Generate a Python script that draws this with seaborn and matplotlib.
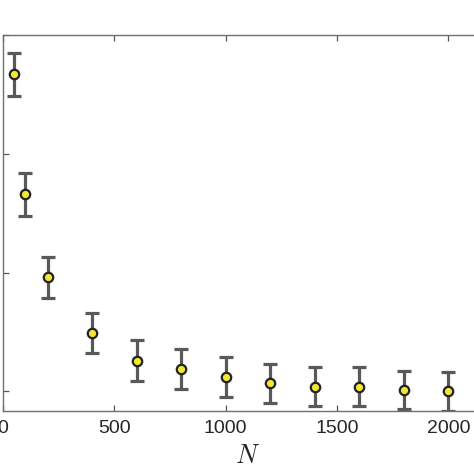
import numpy as np
import matplotlib
matplotlib.use("Agg")
import matplotlib.pyplot as plt
import seaborn as sns

# sample sizes and the estimated values (arbitrary units, y tick labels are off the crop)
n_vals = [50, 100, 200, 400, 600, 800, 1000, 1200, 1400, 1600, 1800, 2000]
mean_vals = [3.67, 2.66, 1.96, 1.49, 1.26, 1.19, 1.12, 1.07, 1.04, 1.04, 1.01, 1.00]
err_vals = [0.18, 0.18, 0.17, 0.17, 0.17, 0.17, 0.17, 0.165, 0.165, 0.165, 0.16, 0.165]

x_ticks = [0, 500, 1000, 1500, 2000]
y_ticks = [1, 2, 3, 4]

sns.set_style("ticks")
plt.rcParams['font.family'] = ['Liberation Sans', 'DejaVu Sans']
plt.rcParams['mathtext.fontset'] = 'cm'

fig = plt.figure(figsize=(4.74, 4.74), dpi=100)
ax = fig.add_axes([3 / 474, 63.5 / 474, 490 / 474, 375.5 / 474])

ax.errorbar(n_vals, mean_vals, yerr=err_vals, fmt='none', ecolor='#595959',
            elinewidth=2.3, capsize=4.8, capthick=2.3, zorder=2)
sns.scatterplot(x=n_vals, y=mean_vals, ax=ax, s=46, color='#f2e636',
                edgecolor='#222222', linewidth=1.6, zorder=3, legend=False)

ax.set_xlim(0, 2200)
ax.set_ylim(0.84, 4.0)
ax.set_xticks(x_ticks)
ax.set_yticks(y_ticks)
ax.set_xlabel('$N$', fontsize=19, labelpad=5)
ax.set_ylabel('')

for side in ['top', 'right', 'left', 'bottom']:
    ax.spines[side].set_visible(True)
    ax.spines[side].set_color('#707070')
    ax.spines[side].set_linewidth(1.0)
ax.tick_params(direction='in', length=4, width=0.9, color='#555555',
               top=True, right=True, labelsize=14, labelcolor='#262626', pad=7)

fig.savefig('out.png', dpi=100)
